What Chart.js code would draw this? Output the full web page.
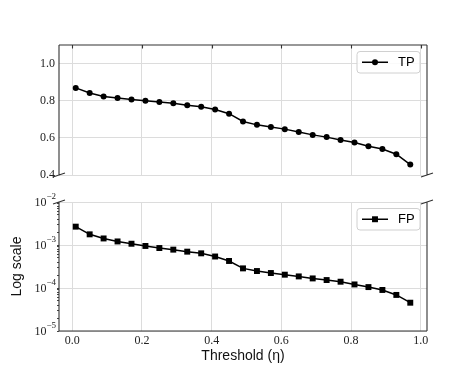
<!DOCTYPE html>
<html>
<head>
<meta charset="utf-8">
<script src="https://cdn.jsdelivr.net/npm/chart.js@4.4.0/dist/chart.umd.min.js"></script>
<style>
  html, body { margin: 0; padding: 0; background: #fff; }
  #wrap { position: relative; width: 474px; height: 379px; }
  canvas { position: absolute; left: 0; }
</style>
</head>
<body>
<div id="wrap">
  <canvas id="tpChart" width="474" height="190" style="top:0px"></canvas>
  <canvas id="fpChart" width="474" height="189" style="top:190px"></canvas>
</div>
<script>
// values
const thresholds = [0.01, 0.05, 0.09, 0.13, 0.17, 0.21, 0.25, 0.29, 0.33, 0.37, 0.41, 0.45, 0.49,
                    0.53, 0.57, 0.61, 0.65, 0.69, 0.73, 0.77, 0.81, 0.85, 0.89, 0.93, 0.97];
const tpValues = [0.869, 0.842, 0.823, 0.814, 0.807, 0.800, 0.793, 0.786, 0.775, 0.768, 0.753, 0.730, 0.688,
                  0.670, 0.658, 0.647, 0.632, 0.616, 0.604, 0.589, 0.575, 0.555, 0.540, 0.512, 0.456];
const fpValues = [2.67e-3, 1.77e-3, 1.42e-3, 1.21e-3, 1.07e-3, 0.95e-3, 0.85e-3, 0.78e-3, 0.70e-3, 0.64e-3, 0.54e-3, 0.425e-3, 2.86e-4,
                  2.48e-4, 2.23e-4, 2.04e-4, 1.86e-4, 1.67e-4, 1.53e-4, 1.40e-4, 1.21e-4, 1.05e-4, 0.90e-4, 0.69e-4, 0.455e-4];

const xTicks = [0, 0.2, 0.4, 0.6, 0.8, 1.0];
const tpTicks = [0.4, 0.6, 0.8, 1.0];
const fpDecades = [1e-5, 1e-4, 1e-3, 1e-2];
const fpExponents = ['\u22125', '\u22124', '\u22123', '\u22122'];

const GRID = '#dcdcdc';
const INK = '#222';
const tickFont = { family: 'Liberation Serif', size: 12 };
const X_MIN = -0.038, X_MAX = 1.018;

// minor ticks for log axis (2..9 x each decade)
const fpMinor = [];
fpDecades.slice(0, 3).forEach(d => { for (let k = 2; k < 10; k++) fpMinor.push(d * k); });

// spines + broken-axis marks (+ inward ticks on the top spine)
const frame = {
  id: 'frame',
  afterDraw(chart, args, opts) {
    const { ctx, chartArea: a } = chart;
    ctx.save();
    ctx.strokeStyle = '#333';
    ctx.lineWidth = 1.1;
    ctx.beginPath();
    ctx.moveTo(a.left, a.top); ctx.lineTo(a.left, a.bottom);
    ctx.moveTo(a.right, a.top); ctx.lineTo(a.right, a.bottom);
    if (opts.cut === 'bottom') {
      ctx.moveTo(a.left, a.top); ctx.lineTo(a.right, a.top);
      xTicks.forEach(v => {
        const x = Math.round(chart.scales.x.getPixelForValue(v)) + 0.5;
        ctx.moveTo(x, a.top); ctx.lineTo(x, a.top + 3.5);
      });
    } else {
      ctx.moveTo(a.left, a.bottom); ctx.lineTo(a.right, a.bottom);
    }
    const y = opts.cut === 'bottom' ? a.bottom : a.top;
    [a.left, a.right].forEach(x => {
      ctx.moveTo(x - 6, y + 2); ctx.lineTo(x + 6, y - 2);
    });
    ctx.stroke();
    ctx.restore();
  }
};

// 10^k labels with a raised exponent
const powerLabels = {
  id: 'powerLabels',
  afterDraw(chart) {
    const { ctx } = chart;
    const s = chart.scales.y;
    const right = s.right - 3;
    ctx.save();
    ctx.fillStyle = INK;
    ctx.textBaseline = 'middle';
    ctx.textAlign = 'right';
    fpDecades.forEach((v, i) => {
      const y = s.getPixelForValue(v);
      ctx.font = '9px "Liberation Serif"';
      const w = ctx.measureText(fpExponents[i]).width;
      ctx.fillText(fpExponents[i], right, y - 5.5);
      ctx.font = '12px "Liberation Serif"';
      ctx.fillText('10', right - w, y + 0.5);
    });
    ctx.restore();
  }
};

// legend box in the upper right corner
const boxLegend = {
  id: 'boxLegend',
  afterDraw(chart) {
    const { ctx, chartArea: a } = chart;
    const ds = chart.data.datasets[0];
    const w = 63, h = 21.5;
    const x0 = a.right - 7 - w, y0 = a.top + 6.5;
    ctx.save();
    ctx.fillStyle = 'rgba(255,255,255,0.85)';
    ctx.strokeStyle = '#d0d0d0';
    ctx.lineWidth = 1;
    ctx.beginPath();
    ctx.roundRect(x0, y0, w, h, 3);
    ctx.fill(); ctx.stroke();
    const cy = y0 + h / 2;
    ctx.strokeStyle = '#000';
    ctx.lineWidth = 1.5;
    ctx.beginPath();
    ctx.moveTo(x0 + 5, cy); ctx.lineTo(x0 + 31, cy);
    ctx.stroke();
    ctx.fillStyle = '#000';
    Chart.helpers.drawPoint(ctx, { pointStyle: ds.pointStyle, radius: ds.pointRadius, borderWidth: 0 }, x0 + 18, cy);
    ctx.font = '13px "Liberation Sans"';
    ctx.textBaseline = 'middle';
    ctx.fillText(ds.label, x0 + 41, cy + 0.5);
    ctx.restore();
  }
};

const pts = vals => thresholds.map((t, i) => ({ x: t, y: vals[i] }));

new Chart(document.getElementById('tpChart'), {
  type: 'line',
  data: {
    datasets: [{
      label: 'TP',
      data: pts(tpValues),
      borderColor: '#000',
      backgroundColor: '#000',
      borderWidth: 1.5,
      pointStyle: 'circle',
      pointRadius: 3,
      pointBorderWidth: 0,
      tension: 0
    }]
  },
  options: {
    responsive: false,
    animation: false,
    devicePixelRatio: 1,
    layout: { padding: { left: 0, top: 45, right: 47, bottom: 15 } },
    plugins: { legend: { display: false }, tooltip: { enabled: false }, frame: { cut: 'bottom' } },
    scales: {
      x: {
        type: 'linear', min: X_MIN, max: X_MAX,
        afterBuildTicks: s => { s.ticks = xTicks.map(v => ({ value: v })); },
        afterFit: s => { s.height = 0; },
        ticks: { display: false },
        grid: { color: GRID, drawTicks: false },
        border: { display: false }
      },
      y: {
        type: 'linear', min: 0.4, max: 1.1,
        afterBuildTicks: s => { s.ticks = tpTicks.map(v => ({ value: v })); },
        afterFit: s => { s.width = 59; },
        ticks: { font: tickFont, color: INK, padding: 4, callback: v => v.toFixed(1) },
        grid: { color: GRID, drawTicks: false },
        border: { display: false }
      }
    }
  },
  plugins: [frame, boxLegend]
});

new Chart(document.getElementById('fpChart'), {
  type: 'line',
  data: {
    datasets: [{
      label: 'FP',
      data: pts(fpValues),
      borderColor: '#000',
      backgroundColor: '#000',
      borderWidth: 1.5,
      pointStyle: 'rect',
      pointRadius: 4.2,
      pointBorderWidth: 0,
      tension: 0
    }]
  },
  options: {
    responsive: false,
    animation: false,
    devicePixelRatio: 1,
    layout: { padding: { left: 0, top: 12, right: 47, bottom: 0 } },
    plugins: { legend: { display: false }, tooltip: { enabled: false }, frame: { cut: 'top' } },
    scales: {
      x: {
        type: 'linear', min: X_MIN, max: X_MAX,
        afterBuildTicks: s => { s.ticks = xTicks.map(v => ({ value: v })); },
        afterFit: s => { s.height = 48; },
        ticks: { font: tickFont, color: INK, padding: 3, maxRotation: 0, callback: v => v.toFixed(1) },
        grid: { color: GRID, drawTicks: false },
        border: { display: false },
        title: { display: true, text: 'Threshold (\u03B7)', font: { family: 'Liberation Sans', size: 14 }, color: '#111', padding: 14 }
      },
      y: {
        type: 'logarithmic', min: 1e-5, max: 1e-2,
        afterBuildTicks: s => {
          s.ticks = fpDecades.map(v => ({ value: v, major: true }))
            .concat(fpMinor.map(v => ({ value: v, major: false })));
        },
        afterFit: s => { s.width = 59; },
        ticks: { display: false, autoSkip: false },
        grid: {
          color: c => (c.tick && c.tick.major ? GRID : 'rgba(0,0,0,0)'),
          tickLength: 2,
          tickColor: '#444'
        },
        border: { display: false },
        title: { display: true, text: 'Log scale', font: { family: 'Liberation Sans', size: 14 }, color: '#111', padding: 8.6 }
      }
    }
  },
  plugins: [frame, boxLegend, powerLabels]
});
</script>
</body>
</html>
